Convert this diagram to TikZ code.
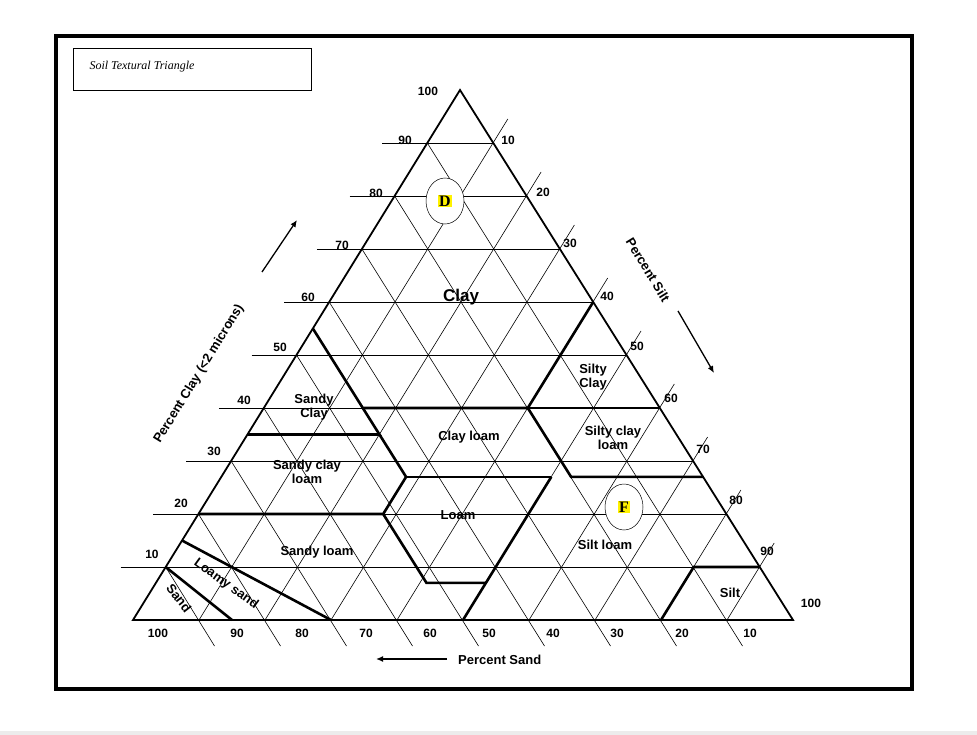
\documentclass[tikz,border=0pt]{standalone}
\usepackage{fontspec}
\setmainfont{Liberation Sans}
\newfontfamily\serifont{Liberation Serif}
\usetikzlibrary{arrows.meta,shapes.geometric}
\newcommand{\tp}[2]{({133+3.27*(#1)+6.6*(#2)},{620-5.3*(#1)})}
\newcommand{\tpo}[4]{({133+3.27*(#1)+6.6*(#2)+(#3)},{620-5.3*(#1)+(#4)})}
\tikzset{
 grid/.style={line width=0.6pt},
 bound/.style={line width=2.6pt,line join=miter},
 num/.style={font=\fontsize{12}{12}\selectfont\bfseries,inner sep=0pt},
 reg/.style={font=\fontsize{13}{14}\selectfont\bfseries,align=center,inner sep=0pt},
 axl/.style={font=\fontsize{13}{13}\selectfont\bfseries,inner sep=0pt},
 axarr/.style={line width=1.3pt,-{Latex[length=7pt,width=6pt]}},
 pointoval/.style={draw,line width=0.5pt,ellipse,fill=white,minimum width=38pt,minimum height=46pt,inner sep=0pt}
}
\begin{document}
\begin{tikzpicture}[x=1pt,y=-1pt]
\useasboundingbox (0,0) rectangle (977,735);
\fill[white] (0,0) rectangle (977,735);
\fill[gray!15] (0,731) rectangle (977,735);
\draw[line width=4pt] (56,36) rectangle (912,689);
\node[draw,line width=0.6pt,minimum width=238pt,minimum height=42pt,inner sep=0pt] (title) at (192,69) {};
\node[font=\serifont\itshape\fontsize{12}{12}\selectfont,anchor=west] (titletext) at (86,67) {Soil Textural Triangle};
% grid
\foreach \i in {1,...,9}{
  \pgfmathsetmacro{\c}{10*\i}
  \draw[grid] \tpo{\c}{0}{-45}{0} -- \tp{\c}{100-\c};
  \draw[grid] \tpo{0}{100-\c}{15.5}{26} -- \tp{100-\c}{0};
  \draw[grid] \tp{0}{\c} -- \tpo{100-\c}{\c}{14.5}{-24};
}
\draw[line width=1.8pt,line join=miter] \tp{100}{0} -- \tp{0}{0} -- \tp{0}{100} -- cycle;
% boundaries
\draw[bound] \tp{55}{0} -- \tp{40}{15} -- \tp{40}{40} -- \tp{60}{40};
\draw[bound] \tp{40}{40} -- \tp{40}{60};
\draw[bound] \tp{35}{0} -- \tp{35}{20} -- \tp{40}{15};
\draw[bound] \tp{35}{20} -- \tp{27}{28} -- \tp{20}{28} -- \tp{20}{0};
\draw[bound] \tp{27}{28} -- \tp{27}{50};
\draw[bound] \tp{27}{50} -- \tp{0}{50};
\draw[bound] \tp{20}{28} -- \tp{7}{41} -- \tp{7}{50};
\draw[bound] \tp{40}{40} -- \tp{27}{53} -- \tp{27}{73};
\draw[bound] \tp{0}{80} -- \tp{10}{80} -- \tp{10}{90};
\draw[bound] \tp{15}{0} -- \tp{0}{30};
\draw[bound] \tp{10}{0} -- \tp{0}{15};
% labels
\node[num] (c100) at (428,91) {100};
\foreach \v/\x/\y in {90/405/140,80/376/193,70/342/245,60/308/297,50/280/347,40/244/400,30/214/451,20/181/503,10/152/554}
  \node[num] (cl\v) at (\x,\y) {\v};
\foreach \v/\x/\y in {10/508/140,20/543/192,30/570/243,40/607/296,50/637/346,60/671/398,70/703/449,80/736/500,90/767/551,100/811/603}
  \node[num] (si\v) at (\x,\y) {\v};
\foreach \v/\x in {100/158,90/237,80/302,70/366,60/430,50/489,40/553,30/617,20/682,10/750}
  \node[num] (sa\v) at (\x,633) {\v};
\node[reg,font=\fontsize{17}{17}\selectfont\bfseries] (clay) at (461,297) {Clay};
\node[reg] (sc) at (314,407) {Sandy\\Clay};
\node[reg] (syc) at (593,377) {Silty\\Clay};
\node[reg] (cl) at (469,437) {Clay loam};
\node[reg] (scl) at (613,438) {Silty clay\\loam};
\node[reg] (sacl) at (307,472) {Sandy clay\\loam};
\node[reg] (lo) at (458,515) {Loam};
\node[reg] (sil) at (605,545) {Silt loam};
\node[reg] (sl) at (317,552) {Sandy loam};
\node[reg] (si) at (730,593) {Silt};
\node[reg,rotate=-36] (ls) at (226,584) {Loamy sand};
\node[reg,rotate=-52] (sa) at (179,598) {Sand};
\node[pointoval] (D) at (445,201) {};
\node[inner sep=1pt,fill=yellow,font=\serifont\bfseries\fontsize{16}{16}\selectfont] (Dt) at (D) {D};
\node[pointoval] (F) at (624,507) {};
\node[inner sep=1pt,fill=yellow,font=\serifont\bfseries\fontsize{16}{16}\selectfont] (Ft) at (F) {F};
% axis labels
\node[axl,rotate=58.5] (pc) at (199,374) {Percent Clay (<2 microns)};
\coordinate (pca) at (262,272); \coordinate (pcb) at (297,220);
\draw[axarr] (pca) -- (pcb);
\node[axl,rotate=-58.5] (ps) at (648,270) {Percent Silt};
\coordinate (psa) at (678,311); \coordinate (psb) at (714,373);
\draw[axarr] (psa) -- (psb);
\node[axl,anchor=west] (pd) at (458,660) {Percent Sand};
\coordinate (pda) at (447,659); \coordinate (pdb) at (376,659);
\draw[axarr] (pda) -- (pdb);
\end{tikzpicture}
\end{document}
